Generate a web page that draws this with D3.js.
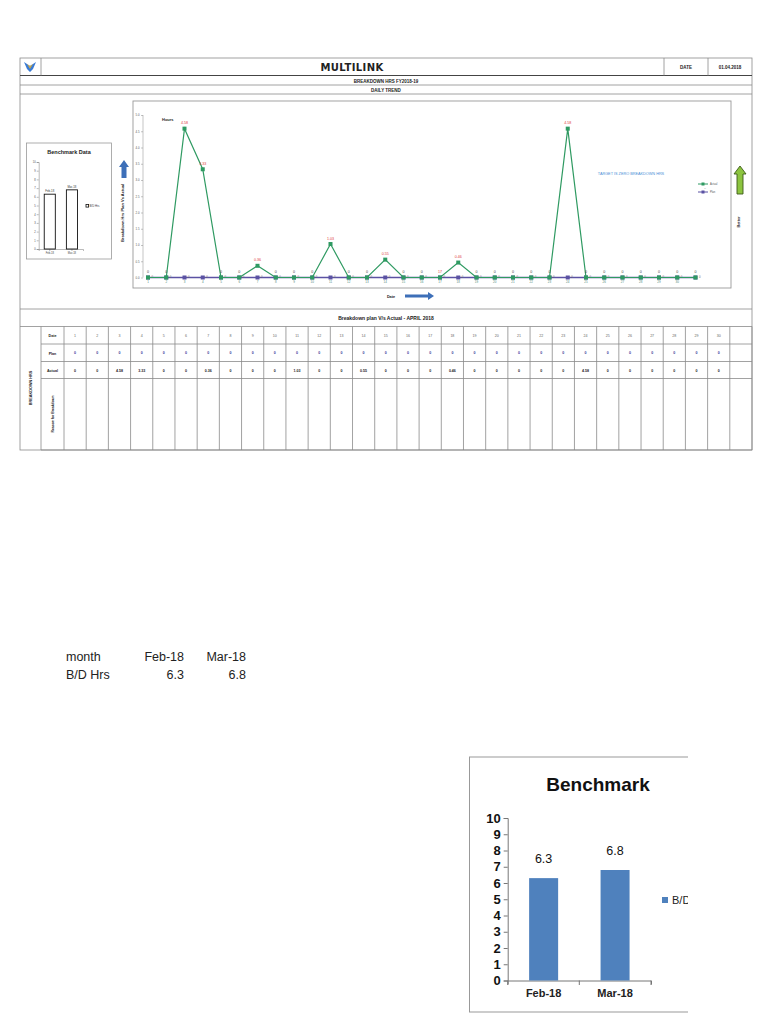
<!DOCTYPE html>
<html>
<head>
<meta charset="utf-8">
<script src="https://cdn.jsdelivr.net/npm/d3@7"></script>
<style>
  body { margin: 0; background: #fff; }
  svg { display: block; font-family: "Liberation Sans", "DejaVu Sans", sans-serif; }
</style>
</head>
<body>
<svg id="page" width="768" height="1024"></svg>
<script>
// ---- data ----
var dates = ["1","2","3","4","5","6","7","8","9","10","11","12","13","14","15","16","17","18","19","20","21","22","23","24","25","26","27","28","29","30",""];
var plan = [0,0,0,0,0,0,0,0,0,0,0,0,0,0,0,0,0,0,0,0,0,0,0,0,0,0,0,0,0,0,0];
var actual = [0,0,4.58,3.33,0,0,0.36,0,0,0,1.03,0,0,0.55,0,0,0,0.46,0,0,0,0,0,4.58,0,0,0,0,0,0,0];
var actualLabels = ["0","0","4.58","3.33","0","0","0.36","0","0","0","1.03","0","0","0.55","0","0","17","0.46","0","0","0","0","0","4.58","0","0","0","0","0","0","0"];
var hoursTicks = [0,0.5,1,1.5,2,2.5,3,3.5,4,4.5,5];

var planRow = ["0","0","0","0","0","0","0","0","0","0","0","0","0","0","0","0","0","0","0","0","0","0","0","0","0","0","0","0","0","0",""];
var actualRow = ["0","0","4.58","3.33","0","0","0.36","0","0","0","1.03","0","0","0.55","0","0","0","0.46","0","0","0","0","0","4.58","0","0","0","0","0","0",""];

var months = ["Feb-18","Mar-18"];
var bdHrs = [6.3, 6.8];
var benchTicks = [0,1,2,3,4,5,6,7,8,9,10];

var svg = d3.select("#page");
var grey = "#8a8a8a";

function line(x1, y1, x2, y2, w, c){
    svg.append("line").attr("x1", x1).attr("y1", y1).attr("x2", x2).attr("y2", y2)
        .attr("stroke", c || grey).attr("stroke-width", w || 0.8);
}
function text(x, y, s, size, opts){
    opts = opts || {};
    return svg.append("text").attr("x", x).attr("y", y).text(s)
        .attr("font-size", size)
        .attr("text-anchor", opts.anchor || "middle")
        .attr("font-weight", opts.weight || "normal")
        .attr("fill", opts.fill || "#222");
}

// ---- header block ----
var L = 20, R = 752;
svg.append("rect").attr("x", L).attr("y", 58).attr("width", R - L).attr("height", 392)
    .attr("fill", "none").attr("stroke", grey).attr("stroke-width", 0.8);
line(L, 75.5, R, 75.5, 1.2, "#444");
line(L, 85, R, 85);
line(L, 94, R, 94);
line(41, 58, 41, 75.5);
line(664, 58, 664, 75.5);
line(708, 58, 708, 75.5);
line(L, 309, R, 309);
line(L, 326.5, R, 326.5);

// logo (little blue bird mark)
svg.append("path").attr("d", "M24,62 L30,66 L36,62 L33,69 L30,72 L27,69 Z").attr("fill", "#3a7bd5");
svg.append("path").attr("d", "M27,64 L30,66 L33,64 L30,69 Z").attr("fill", "#c9a84a");

text(352, 70.5, "MULTILINK", 10, {weight: "900"}).attr("font-family", "DejaVu Sans").attr("letter-spacing", 0.4);
text(686, 68.5, "DATE", 4.5, {weight: "bold"});
text(730, 68.5, "01.04.2018", 4.5, {weight: "bold"});
text(386, 82.5, "BREAKDOWN HRS  FY2018-19", 4.5, {weight: "bold"});
text(386, 91.5, "DAILY TREND", 4.5, {weight: "bold"});

// ---- small benchmark data chart ----
svg.append("rect").attr("x", 26.5).attr("y", 143).attr("width", 85).attr("height", 116)
    .attr("fill", "#fff").attr("stroke", "#999").attr("stroke-width", 0.8);
text(69, 153.5, "Benchmark Data", 5.5, {weight: "bold"});

var sy = d3.scaleLinear().domain([0, 10]).range([249, 162]);
var sx = d3.scaleBand().domain(months).range([38.7, 83]).paddingInner(0.5).paddingOuter(0.25);
var sAxis = svg.append("g").attr("transform", "translate(38.7,0)")
    .call(d3.axisLeft(sy).tickValues(benchTicks).tickSize(2).tickPadding(1));
sAxis.selectAll("text").attr("font-size", 2.6).attr("fill", "#444");
sAxis.selectAll("line,path").attr("stroke", "#777").attr("stroke-width", 0.5);
var sxAxis = svg.append("g").attr("transform", "translate(0,249)")
    .call(d3.axisBottom(sx).tickSize(2).tickPadding(1.5));
sxAxis.selectAll("text").attr("font-size", 2.6).attr("fill", "#444");
sxAxis.selectAll("line,path").attr("stroke", "#777").attr("stroke-width", 0.5);
svg.selectAll(".sbar").data(bdHrs).enter().append("rect")
    .attr("class", "sbar")
    .attr("x", (d, i) => sx(months[i]))
    .attr("y", d => sy(d))
    .attr("width", sx.bandwidth())
    .attr("height", d => 249 - sy(d))
    .attr("fill", "#fff").attr("stroke", "#111").attr("stroke-width", 0.9);
svg.selectAll(".slab").data(bdHrs).enter().append("text")
    .attr("class", "slab")
    .attr("x", (d, i) => sx(months[i]) + sx.bandwidth() / 2)
    .attr("y", d => sy(d) - 2)
    .attr("text-anchor", "middle").attr("font-size", 2.8).attr("fill", "#333")
    .text((d, i) => months[i]);
svg.append("rect").attr("x", 86).attr("y", 204.5).attr("width", 2.6).attr("height", 2.6)
    .attr("fill", "#fff").attr("stroke", "#111").attr("stroke-width", 0.8);
text(89.5, 207, "B/D Hrs", 2.8, {anchor: "start", fill: "#333"});

// ---- daily trend chart ----
svg.append("rect").attr("x", 133).attr("y", 101).attr("width", 598).attr("height", 187)
    .attr("fill", "#fff").attr("stroke", "#999").attr("stroke-width", 0.9);

var y = d3.scaleLinear().domain([0, 5]).range([277.5, 115]);
var x = d3.scalePoint().domain(d3.range(actual.length)).range([148, 695.5]);

var yAxis = svg.append("g").attr("transform", "translate(143,0)")
    .call(d3.axisLeft(y).tickValues(hoursTicks).tickSize(2).tickPadding(1.5));
yAxis.selectAll("text").attr("font-size", 2.8).attr("fill", "#555");
yAxis.selectAll("line,path").attr("stroke", "#888").attr("stroke-width", 0.5);
yAxis.select(".domain").remove();
line(143, 115, 143, 277.5, 0.5, "#888");

svg.selectAll(".xlab").data(dates).enter().append("text")
    .attr("class", "xlab")
    .attr("x", (d, i) => x(i))
    .attr("y", 282.5)
    .attr("text-anchor", "middle").attr("font-size", 3).attr("fill", "#4f8a7a")
    .text(d => d);

text(162, 121, "Hours", 4, {weight: "bold", anchor: "start"});

// plan series
var planColor = "#5b52a3", actColor = "#2f9a62";
var pathGen = d3.line().x((d, i) => x(i)).y(d => y(d));
svg.append("path").datum(plan).attr("d", pathGen)
    .attr("fill", "none").attr("stroke", planColor).attr("stroke-width", 1.6);
svg.selectAll(".pm").data(plan).enter().append("rect")
    .attr("class", "pm")
    .attr("x", (d, i) => x(i) - 2).attr("y", d => y(d) - 2)
    .attr("width", 4).attr("height", 4).attr("fill", planColor);
svg.selectAll(".pl").data(plan).enter().append("text")
    .attr("class", "pl")
    .attr("x", (d, i) => x(i) + 3.5).attr("y", d => y(d))
    .attr("font-size", 2.8).attr("fill", "#666").text(d => d);

// actual series
svg.append("path").datum(actual).attr("d", pathGen)
    .attr("fill", "none").attr("stroke", actColor).attr("stroke-width", 1.2);
svg.selectAll(".am").data(actual).enter().append("rect")
    .attr("class", "am")
    .attr("x", (d, i) => x(i) - 2).attr("y", d => y(d) - 2)
    .attr("width", 4).attr("height", 4).attr("fill", actColor);
svg.selectAll(".al").data(actual).enter().append("text")
    .attr("class", "al")
    .attr("x", (d, i) => x(i)).attr("y", d => y(d) - 4.5)
    .attr("text-anchor", "middle").attr("font-size", 3.6)
    .attr("fill", (d, i) => actualLabels[i] === "0" ? "#444" : "#e03a3a")
    .text((d, i) => actualLabels[i]);

text(631, 174.5, "TARGET IS ZERO BREAKDOWN HRS", 3.8, {fill: "#4a8fd6"});

// legend
[["Actual", actColor, 184], ["Plan", planColor, 192]].forEach(function(l){
    line(698, l[2], 708, l[2], 1, l[1]);
    svg.append("rect").attr("x", 701.5).attr("y", l[2] - 1.5).attr("width", 3).attr("height", 3).attr("fill", l[1]);
    text(710, l[2] + 1, l[0], 2.6, {anchor: "start", fill: "#555"});
});
text(705, 188.5, "L", 2.2, {anchor: "middle", fill: "#777"});

// axis titles + arrows
text(0, 0, "Breakdown Hrs Plan Vs Actual", 4, {weight: "bold"})
    .attr("transform", "translate(123.5,213) rotate(-90)");
svg.append("path").attr("d", "M124,160 L129,167 L126.5,167 L126.5,178 L121.5,178 L121.5,167 L119,167 Z")
    .attr("fill", "#3d6fb8");
svg.append("path").attr("d", "M740,166 L746,174 L743,174 L743,194 L737,194 L737,174 L734,174 Z")
    .attr("fill", "#8cc43f").attr("stroke", "#3c5a1a").attr("stroke-width", 0.9);
text(0, 0, "Better", 3.8, {weight: "bold"})
    .attr("transform", "translate(739.5,222) rotate(-90)");
text(391, 297.5, "Date", 3.8, {weight: "bold"});
svg.append("path").attr("d", "M405,294.5 L428,294.5 L428,292 L434,296 L428,300 L428,297.5 L405,297.5 Z")
    .attr("fill", "#3d6fb8");

// ---- plan vs actual table ----
text(386, 320, "Breakdown plan V/s Actual - APRIL 2018", 5, {weight: "bold"});
var colX = d3.scaleBand().domain(d3.range(dates.length)).range([64, R]);
var rows = [["Date", 326.5, 344], ["Plan", 344, 361.5], ["Actual", 361.5, 378.5], ["Reason", 378.5, 450]];
line(41, 326.5, 41, 450);
line(64, 326.5, 64, 450);
rows.forEach(function(r){ line(41, r[2], R, r[2]); });
colX.domain().forEach(function(i){ line(colX(i) + colX.bandwidth(), 326.5, colX(i) + colX.bandwidth(), 450); });

text(52.5, 337, "Date", 3.6, {weight: "bold"});
text(52.5, 354.5, "Plan", 3.6, {weight: "bold"});
text(52.5, 371.5, "Actual", 3.6, {weight: "bold"});
text(0, 0, "Reason for Breakdown", 3.4, {weight: "bold"})
    .attr("transform", "translate(53.5,414) rotate(-90)");
text(0, 0, "BREAKDOWN HRS", 3.8, {weight: "bold"})
    .attr("transform", "translate(32,388) rotate(-90)");

function tableRow(vals, cy, col, bold){
    svg.selectAll(null).data(vals).enter().append("text")
        .attr("x", (d, i) => colX(i) + colX.bandwidth() / 2)
        .attr("y", cy)
        .attr("text-anchor", "middle").attr("font-size", 3.6)
        .attr("font-weight", bold ? "bold" : "normal")
        .attr("fill", col).text(d => d);
}
tableRow(dates, 336.5, "#666", false);
tableRow(planRow, 354, "#3a3a9a", true);
tableRow(actualRow, 371.5, "#222", true);

// ---- month table ----
svg.append("g").call(function(g){
    g.append("text").attr("x", 66).attr("y", 661).attr("font-size", 12.5).attr("fill", "#222").text("month");
    g.append("text").attr("x", 66).attr("y", 679).attr("font-size", 12.5).attr("fill", "#222").text("B/D Hrs");
    months.forEach(function(m, i){
        var ex = [184, 246][i];
        g.append("text").attr("x", ex).attr("y", 661).attr("text-anchor", "end").attr("font-size", 12.5).attr("fill", "#222").text(m);
        g.append("text").attr("x", ex).attr("y", 679).attr("text-anchor", "end").attr("font-size", 12.5).attr("fill", "#222").text(bdHrs[i]);
    });
});

// ---- benchmark chart ----
svg.append("rect").attr("x", 469.5).attr("y", 757).attr("width", 230).attr("height", 255)
    .attr("fill", "#fff").attr("stroke", "#999").attr("stroke-width", 1);
text(598, 791, "Benchmark", 19, {weight: "bold", fill: "#111"});

var by = d3.scaleLinear().domain([0, 10]).range([980.5, 818]);
var bx = d3.scaleBand().domain(months).range([507.7, 651]).paddingInner(0.594).paddingOuter(0.3);
var byAxis = svg.append("g").attr("transform", "translate(507.7,0)")
    .call(d3.axisLeft(by).tickValues(benchTicks).tickSize(4).tickPadding(3));
byAxis.selectAll("text").attr("font-size", 13).attr("font-weight", "600").attr("fill", "#111");
byAxis.selectAll("line,path").attr("stroke", "#777");
var bxAxis = svg.append("g").attr("transform", "translate(0,980.5)")
    .call(d3.axisBottom(bx).tickSize(4).tickPadding(5).tickSizeOuter(4));
bxAxis.selectAll("text").attr("font-size", 11).attr("font-weight", "bold").attr("fill", "#222");
bxAxis.selectAll("line,path").attr("stroke", "#777");
bxAxis.selectAll(".tick line").remove();
[507.7, 579.3, 651].forEach(function(tx){ line(tx, 980.5, tx, 985, 1, "#777"); });

svg.selectAll(".bbar").data(bdHrs).enter().append("rect")
    .attr("class", "bbar")
    .attr("x", (d, i) => bx(months[i]))
    .attr("y", d => by(d))
    .attr("width", bx.bandwidth())
    .attr("height", d => 980.5 - by(d))
    .attr("fill", "#4f81bd");
svg.selectAll(".blab").data(bdHrs).enter().append("text")
    .attr("class", "blab")
    .attr("x", (d, i) => bx(months[i]) + bx.bandwidth() / 2)
    .attr("y", d => by(d) - 15)
    .attr("text-anchor", "middle").attr("font-size", 12.5).attr("fill", "#111")
    .text(d => d);
svg.append("rect").attr("x", 662).attr("y", 897).attr("width", 6).attr("height", 6).attr("fill", "#4f81bd");
text(672, 904, "B/D Hrs", 11, {anchor: "start", fill: "#222"});

// clip everything right of the visible page edge of the embedded chart
svg.append("rect").attr("x", 688).attr("y", 740).attr("width", 80).attr("height", 284).attr("fill", "#fff");
</script>
</body>
</html>
